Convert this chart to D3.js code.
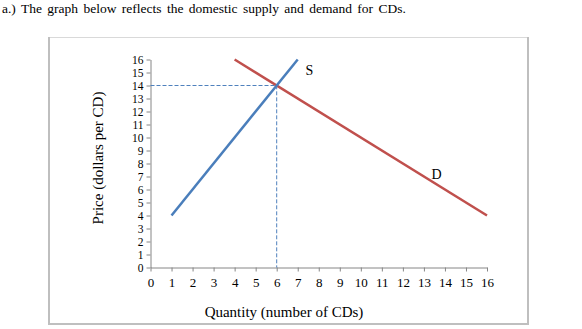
<!DOCTYPE html>
<html><head><meta charset="utf-8">
<script src="https://cdn.jsdelivr.net/npm/d3@7"></script>
<style>body{margin:0;background:#fff}svg{display:block}text{font-family:"Liberation Serif","Times New Roman",serif}</style>
</head><body>
<svg id="c" width="582" height="329"></svg>
<script>
const xTicks = d3.range(0, 17);
const yTicks = d3.range(0, 17);
const supplyQ = [1, 7];
const supplyP = [4, 16];
const demandQ = [4, 16];
const demandP = [16, 4];
const equilibrium = {q: 6, p: 14};
const labels = [{t: "S", q: 7.55, p: 15.2}, {t: "D", q: 13.6, p: 7.15}];

const svg = d3.select("#c");
const x = d3.scaleLinear().domain([0, 16]).range([150.5, 487]);
const y = d3.scaleLinear().domain([0, 16]).range([267.5, 59.5]);

svg.append("text").attr("x", 2).attr("y", 13).attr("font-size", 13.5).attr("word-spacing", 2)
  .text("a.) The graph below reflects the domestic supply and demand for CDs.");

// frame
svg.append("line").attr("x1", 49).attr("x2", 528).attr("y1", 37.5).attr("y2", 37.5).attr("stroke", "#d9d9d9").attr("stroke-width", 1);
svg.append("line").attr("x1", 49).attr("x2", 49).attr("y1", 37).attr("y2", 324).attr("stroke", "#bfbfbf").attr("stroke-width", 2);
svg.append("line").attr("x1", 528).attr("x2", 528).attr("y1", 37).attr("y2", 325).attr("stroke", "#bfbfbf").attr("stroke-width", 2);
svg.append("line").attr("x1", 48).attr("x2", 529).attr("y1", 324).attr("y2", 324).attr("stroke", "#bfbfbf").attr("stroke-width", 2);

const gx = svg.append("g").attr("transform", `translate(0,${y(0)})`)
  .call(d3.axisBottom(x).tickValues(xTicks).tickSize(4).tickSizeOuter(0).tickPadding(6).tickFormat(d3.format("d")));
const gy = svg.append("g").attr("transform", `translate(${x(0)},0)`)
  .call(d3.axisLeft(y).tickValues(yTicks).tickSize(4).tickSizeOuter(0).tickPadding(3).tickFormat(d3.format("d")));
[gx, gy].forEach(g => {
  g.attr("font-size", 13).attr("font-family", null);
  g.selectAll("path,line").attr("stroke", "#868686");
  g.selectAll("text").attr("fill", "#000");
});
gx.selectAll("text").style("font-size", "13px");
gy.selectAll("text").style("font-size", "11.5px").attr("dy", "0.34em");

// dashed
svg.append("path").attr("d", `M${x(0)},${y(equilibrium.p)}H${x(equilibrium.q)}V${y(0)}`)
  .attr("fill", "none").attr("stroke", "#4f81bd").attr("stroke-width", 1).attr("stroke-dasharray", "4,2");

const line = d3.line().x(d => x(d[0])).y(d => y(d[1]));
svg.append("path").attr("d", line(d3.zip(demandQ, demandP))).attr("fill", "none").attr("stroke", "#c0504d").attr("stroke-width", 2.5);
svg.append("path").attr("d", line(d3.zip(supplyQ, supplyP))).attr("fill", "none").attr("stroke", "#4a7ebb").attr("stroke-width", 2.5);

labels.forEach(l => svg.append("text").attr("x", x(l.q)).attr("y", y(l.p)).attr("text-anchor", "middle")
  .attr("dy", "0.35em").style("font-size", "14px").text(l.t));

svg.append("text").attr("x", 284).attr("y", 317).attr("text-anchor", "middle").style("font-size", "15px").text("Quantity (number of CDs)");
svg.append("text").attr("transform", "translate(103,158) rotate(-90)").attr("text-anchor", "middle").style("font-size", "15px").text("Price (dollars per CD)");
</script>
</body></html>
